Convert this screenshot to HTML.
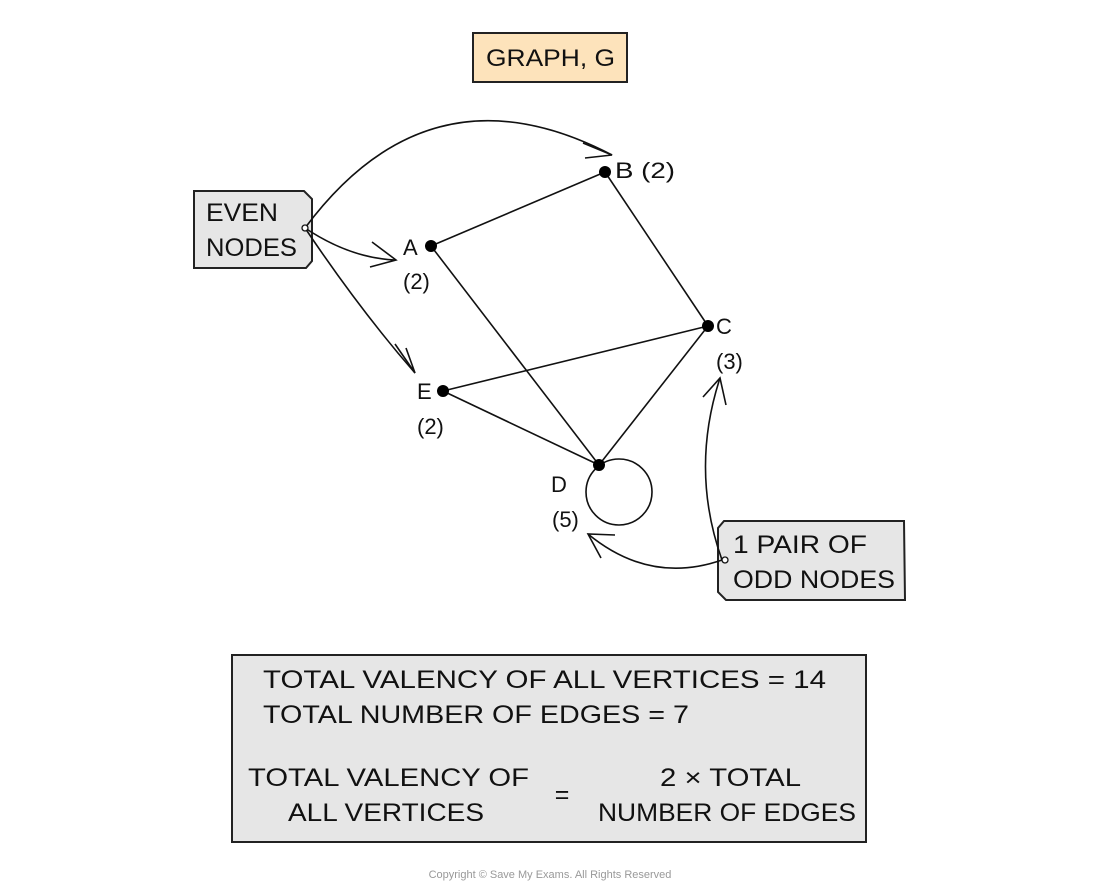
<!DOCTYPE html>
<html><head><style>
body{margin:0;width:1100px;height:890px;background:#fff;overflow:hidden}
svg text{font-family:"Liberation Sans",sans-serif;fill:#111}
</style></head><body>
<svg width="1100" height="890" viewBox="0 0 1100 890" xmlns="http://www.w3.org/2000/svg">
<rect x="473" y="33" width="154" height="49" fill="#fde3bb" stroke="#222" stroke-width="2"/>
<text x="486" y="66" font-size="24" textLength="129" lengthAdjust="spacingAndGlyphs">GRAPH, G</text>

<path d="M194,191 L304,191 L312,199 L312,261 L306,268 L194,268 Z" fill="#e6e6e6" stroke="#222" stroke-width="2"/>
<text x="206" y="221" font-size="25" textLength="72" lengthAdjust="spacingAndGlyphs">EVEN</text>
<text x="206" y="256" font-size="25" textLength="91" lengthAdjust="spacingAndGlyphs">NODES</text>

<path d="M718,528 L724,521 L904,521 L905,600 L726,600 L718,592 Z" fill="#e6e6e6" stroke="#222" stroke-width="2"/>
<text x="733" y="553" font-size="25" textLength="134" lengthAdjust="spacingAndGlyphs">1 PAIR OF</text>
<text x="733" y="588" font-size="25" textLength="162" lengthAdjust="spacingAndGlyphs">ODD NODES</text>

<g stroke="#111" stroke-width="1.6" fill="none">
<line x1="431" y1="246" x2="605" y2="172"/>
<line x1="605" y1="172" x2="708" y2="326"/>
<line x1="431" y1="246" x2="599" y2="465"/>
<line x1="443" y1="391" x2="708" y2="326"/>
<line x1="443" y1="391" x2="599" y2="465"/>
<line x1="599" y1="465" x2="708" y2="326"/>
<circle cx="619" cy="492" r="33"/>
<path d="M305,228 Q430,60 612,155"/>
<path d="M583,143 L612,155 L585,158"/>
<path d="M305,228 Q350,258 395,260"/>
<path d="M372,242 L396,260 L370,267"/>
<path d="M305,228 Q360,310 415,373"/>
<path d="M395,344 L415,373 L406,348"/>
<path d="M722,560 Q650,585 588,534"/>
<path d="M615,535 L588,534 L601,558"/>
<path d="M722,560 Q690,470 720,378"/>
<path d="M703,397 L720,378 L726,405"/>
</g>
<circle cx="305" cy="228" r="3" fill="#fff" stroke="#111" stroke-width="1.3"/>
<circle cx="725" cy="560" r="3" fill="#fff" stroke="#111" stroke-width="1.3"/>
<g fill="#000">
<circle cx="605" cy="172" r="6"/><circle cx="431" cy="246" r="6"/>
<circle cx="708" cy="326" r="6"/><circle cx="443" cy="391" r="6"/>
<circle cx="599" cy="465" r="6"/>
</g>
<g font-size="22">
<text x="615" y="178" textLength="60" lengthAdjust="spacingAndGlyphs">B (2)</text>
<text x="403" y="255">A</text><text x="403" y="289">(2)</text>
<text x="716" y="334">C</text><text x="716" y="369">(3)</text>
<text x="417" y="399">E</text><text x="417" y="434">(2)</text>
<text x="551" y="492">D</text><text x="552" y="527">(5)</text>
</g>

<rect x="232" y="655" width="634" height="187" fill="#e6e6e6" stroke="#222" stroke-width="2"/>
<g font-size="25">
<text x="263" y="688" textLength="563" lengthAdjust="spacingAndGlyphs">TOTAL VALENCY OF ALL VERTICES = 14</text>
<text x="263" y="723" textLength="426" lengthAdjust="spacingAndGlyphs">TOTAL NUMBER OF EDGES = 7</text>
<text x="248" y="786" textLength="281" lengthAdjust="spacingAndGlyphs">TOTAL VALENCY OF</text>
<text x="288" y="821" textLength="196" lengthAdjust="spacingAndGlyphs">ALL VERTICES</text>
<text x="562" y="803" text-anchor="middle">=</text>
<text x="660" y="786" textLength="141" lengthAdjust="spacingAndGlyphs">2 × TOTAL</text>
<text x="598" y="821" textLength="258" lengthAdjust="spacingAndGlyphs">NUMBER OF EDGES</text>
</g>
<text x="550" y="878" font-size="11" text-anchor="middle" style="fill:#999">Copyright © Save My Exams. All Rights Reserved</text>
</svg>
</body></html>
